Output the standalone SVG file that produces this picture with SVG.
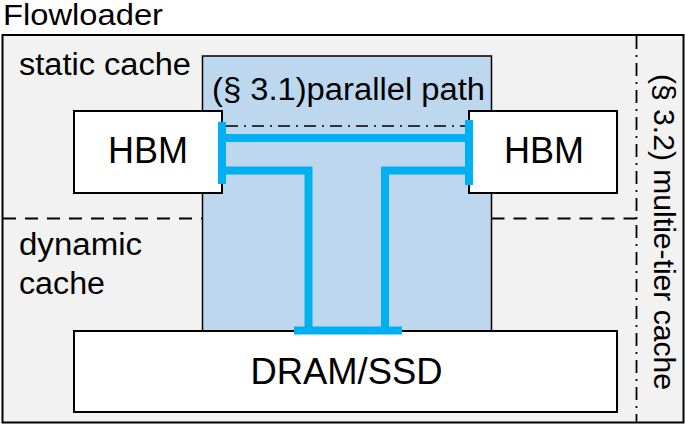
<svg xmlns="http://www.w3.org/2000/svg" width="685" height="425" viewBox="0 0 685 425">
<style>
text{font-family:"Liberation Sans",Arial,sans-serif;fill:#000}
.lbl{font-size:31px}
.big{font-size:36px}
.box{fill:#fff;stroke:#000;stroke-width:2}
.dash{fill:none;stroke:#000;stroke-width:1.8;stroke-dasharray:13 9}
.dashdot{fill:none;stroke:#000;stroke-width:1.8;stroke-dasharray:13 6 2 6}
.link{fill:none;stroke:#00B0F0;stroke-width:8;stroke-linecap:butt;stroke-linejoin:miter}
</style>
<rect width="685" height="425" fill="#fff"/>
<text x="3" y="25" style="font-size:29px" textLength="160" lengthAdjust="spacingAndGlyphs">Flowloader</text>
<g id="flowloader">
<rect x="2.5" y="35" width="681" height="387.5" fill="#F2F2F2" stroke="#000" stroke-width="2"/>
<text class="lbl" x="19" y="75" textLength="172" lengthAdjust="spacingAndGlyphs">static cache</text>
<text class="lbl" x="19" y="255" textLength="123" lengthAdjust="spacingAndGlyphs">dynamic</text>
<text class="lbl" x="19" y="294" textLength="86" lengthAdjust="spacingAndGlyphs">cache</text>
<line class="dash" x1="3" y1="218.5" x2="202.5" y2="218.5"/>
<line class="dash" x1="491.5" y1="218.5" x2="636.5" y2="218.5"/>
<line class="dashdot" x1="636.5" y1="36" x2="636.5" y2="421.5"/>
<text style="font-size:30px" transform="translate(654,74) rotate(90)" textLength="316" lengthAdjust="spacingAndGlyphs">(§ 3.2) multie-tier cache</text>
</g>
<g id="parallel-path">
<rect x="202.5" y="56" width="289" height="275" fill="#BDD7EE" stroke="#000" stroke-width="1.5"/>
<text class="lbl" x="212" y="100" textLength="273" lengthAdjust="spacingAndGlyphs">(§ 3.1)parallel path</text>
<line fill="none" stroke="#000" stroke-width="1.5" stroke-dasharray="12 6 2 6" x1="226" y1="126" x2="465" y2="126"/>
</g>
<g id="hbm-left">
<rect class="box" x="74" y="111" width="148" height="82"/>
<text class="big" x="148" y="163" text-anchor="middle">HBM</text>
</g>
<g id="hbm-right">
<rect class="box" x="469" y="111" width="148" height="82"/>
<text class="big" x="544" y="163" text-anchor="middle">HBM</text>
</g>
<g id="dram-ssd">
<rect class="box" x="74" y="331" width="543" height="81"/>
<text class="big" x="250.5" y="384" textLength="192" lengthAdjust="spacingAndGlyphs">DRAM/SSD</text>
</g>
<g id="connectors">
<line class="link" x1="222" y1="122" x2="222" y2="184"/>
<line class="link" x1="469" y1="120" x2="469" y2="185"/>
<line class="link" x1="222" y1="138" x2="469" y2="138"/>
<path class="link" d="M222,170.5 H308.5 V330"/>
<path class="link" d="M469,170.5 H385 V330"/>
<line class="link" x1="294" y1="330.5" x2="402" y2="330.5"/>
</g>
</svg>
